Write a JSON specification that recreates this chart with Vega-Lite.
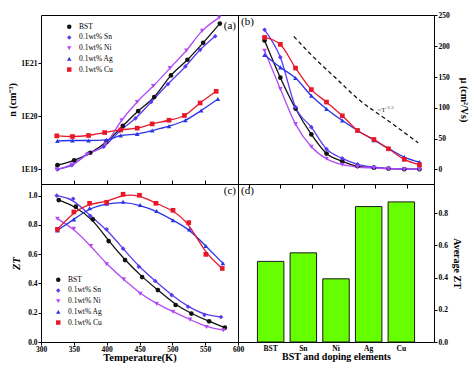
{
  "$schema": "https://vega.github.io/schema/vega-lite/v6.json",
  "padding": {"left": 7, "top": 10, "right": 4, "bottom": 4},
  "background": "white",
  "config": {
    "font": "Liberation Serif",
    "view": {"stroke": "black", "strokeWidth": 1},
    "axis": {"labelFont": "Liberation Serif", "labelFontWeight": "bold", "labelFontSize": 7.5, "labelColor": "black", "labelOverlap": false, "labelFlush": false, "titleFont": "Liberation Serif", "titleFontWeight": "bold", "titleColor": "black", "titleFontSize": 10, "domain": false, "tickColor": "black", "grid": false, "tickSize": 3, "labelPadding": 1},
    "legend": {"labelFont": "Liberation Serif", "labelFontSize": 7.5, "labelColor": "black", "symbolSize": 20, "rowPadding": 1.7, "labelOffset": 6, "padding": 0},
    "title": {"font": "Liberation Serif", "fontSize": 11, "fontWeight": "normal", "color": "black", "frame": "group"}
  },
  "datasets": {
    "n": [
      {"s": "BST", "T": 325, "v": 1.2e19}, {"s": "BST", "T": 350.5, "v": 1.48e19}, {"s": "BST", "T": 375, "v": 2.06e19}, {"s": "BST", "T": 399.5, "v": 3.3e19}, {"s": "BST", "T": 424.5, "v": 6.61e19}, {"s": "BST", "T": 448, "v": 1.26e20}, {"s": "BST", "T": 472.4, "v": 2.32e20}, {"s": "BST", "T": 497.9, "v": 5.92e20}, {"s": "BST", "T": 523, "v": 1.17e21}, {"s": "BST", "T": 546.9, "v": 2.44e21}, {"s": "BST", "T": 572.4, "v": 5.62e21},
      {"s": "0.1wt% Sn", "T": 325, "v": 1.0e19}, {"s": "0.1wt% Sn", "T": 346.9, "v": 1.2e19}, {"s": "0.1wt% Sn", "T": 370.9, "v": 1.97e19}, {"s": "0.1wt% Sn", "T": 395.4, "v": 2.67e19}, {"s": "0.1wt% Sn", "T": 419.9, "v": 5.32e19}, {"s": "0.1wt% Sn", "T": 443.9, "v": 9.2e19}, {"s": "0.1wt% Sn", "T": 467.8, "v": 1.87e20}, {"s": "0.1wt% Sn", "T": 493.4, "v": 4.07e20}, {"s": "0.1wt% Sn", "T": 519.9, "v": 8.75e20}, {"s": "0.1wt% Sn", "T": 542.3, "v": 1.8e21}, {"s": "0.1wt% Sn", "T": 565.3, "v": 3.25e21},
      {"s": "0.1wt% Ni", "T": 324, "v": 1.0e19}, {"s": "0.1wt% Ni", "T": 346.9, "v": 1.24e19}, {"s": "0.1wt% Ni", "T": 370.9, "v": 1.91e19}, {"s": "0.1wt% Ni", "T": 398.4, "v": 3.03e19}, {"s": "0.1wt% Ni", "T": 422.9, "v": 8.45e19}, {"s": "0.1wt% Ni", "T": 446.4, "v": 1.87e20}, {"s": "0.1wt% Ni", "T": 470.9, "v": 3.73e20}, {"s": "0.1wt% Ni", "T": 496.4, "v": 8.13e20}, {"s": "0.1wt% Ni", "T": 521.4, "v": 1.75e21}, {"s": "0.1wt% Ni", "T": 545.4, "v": 4.1e21}, {"s": "0.1wt% Ni", "T": 571.4, "v": 7.3e21},
      {"s": "0.1wt% Ag", "T": 325, "v": 3.45e19}, {"s": "0.1wt% Ag", "T": 347.9, "v": 3.51e19}, {"s": "0.1wt% Ag", "T": 372.4, "v": 3.51e19}, {"s": "0.1wt% Ag", "T": 399.5, "v": 3.61e19}, {"s": "0.1wt% Ag", "T": 421.4, "v": 4.36e19}, {"s": "0.1wt% Ag", "T": 446.4, "v": 4.68e19}, {"s": "0.1wt% Ag", "T": 469.3, "v": 5.41e19}, {"s": "0.1wt% Ag", "T": 494.9, "v": 6.52e19}, {"s": "0.1wt% Ag", "T": 519.9, "v": 8.45e19}, {"s": "0.1wt% Ag", "T": 543.9, "v": 1.29e20}, {"s": "0.1wt% Ag", "T": 569.4, "v": 2.13e20},
      {"s": "0.1wt% Cu", "T": 324, "v": 4.29e19}, {"s": "0.1wt% Cu", "T": 347.9, "v": 4.17e19}, {"s": "0.1wt% Cu", "T": 372.4, "v": 4.36e19}, {"s": "0.1wt% Cu", "T": 396.9, "v": 4.95e19}, {"s": "0.1wt% Cu", "T": 421.4, "v": 5.56e19}, {"s": "0.1wt% Cu", "T": 446.4, "v": 5.98e19}, {"s": "0.1wt% Cu", "T": 469.3, "v": 7.21e19}, {"s": "0.1wt% Cu", "T": 494.9, "v": 8.45e19}, {"s": "0.1wt% Cu", "T": 518.4, "v": 1.04e20}, {"s": "0.1wt% Cu", "T": 542.3, "v": 1.79e20}, {"s": "0.1wt% Cu", "T": 566.8, "v": 2.97e20}
    ],
    "mu": [
      {"s": "BST", "T": 325, "v": 209.5}, {"s": "BST", "T": 350, "v": 149}, {"s": "BST", "T": 374, "v": 98.8}, {"s": "BST", "T": 399, "v": 56.7}, {"s": "BST", "T": 423, "v": 25.6}, {"s": "BST", "T": 448, "v": 13}, {"s": "BST", "T": 472, "v": 5}, {"s": "BST", "T": 498, "v": 2.8}, {"s": "BST", "T": 521, "v": 1.3}, {"s": "BST", "T": 546, "v": 0.3}, {"s": "BST", "T": 570, "v": 0.2},
      {"s": "0.1wt% Sn", "T": 325, "v": 226.8}, {"s": "0.1wt% Sn", "T": 350, "v": 182}, {"s": "0.1wt% Sn", "T": 374, "v": 101}, {"s": "0.1wt% Sn", "T": 399, "v": 68.5}, {"s": "0.1wt% Sn", "T": 423, "v": 33}, {"s": "0.1wt% Sn", "T": 448, "v": 17.8}, {"s": "0.1wt% Sn", "T": 472, "v": 8.1}, {"s": "0.1wt% Sn", "T": 498, "v": 3.5}, {"s": "0.1wt% Sn", "T": 521, "v": 1.5}, {"s": "0.1wt% Sn", "T": 546, "v": 0.5}, {"s": "0.1wt% Sn", "T": 570, "v": 0.3},
      {"s": "0.1wt% Ni", "T": 325, "v": 192.8}, {"s": "0.1wt% Ni", "T": 350, "v": 130.5}, {"s": "0.1wt% Ni", "T": 374, "v": 73.5}, {"s": "0.1wt% Ni", "T": 399, "v": 36.8}, {"s": "0.1wt% Ni", "T": 423, "v": 17.2}, {"s": "0.1wt% Ni", "T": 448, "v": 7.5}, {"s": "0.1wt% Ni", "T": 472, "v": 3.8}, {"s": "0.1wt% Ni", "T": 498, "v": 2.2}, {"s": "0.1wt% Ni", "T": 521, "v": 1}, {"s": "0.1wt% Ni", "T": 546, "v": 0.3}, {"s": "0.1wt% Ni", "T": 570, "v": 0.2},
      {"s": "0.1wt% Ag", "T": 325, "v": 186}, {"s": "0.1wt% Ag", "T": 350, "v": 165.7}, {"s": "0.1wt% Ag", "T": 374, "v": 148.4}, {"s": "0.1wt% Ag", "T": 399, "v": 119.5}, {"s": "0.1wt% Ag", "T": 423, "v": 98.2}, {"s": "0.1wt% Ag", "T": 448, "v": 79.4}, {"s": "0.1wt% Ag", "T": 472, "v": 63.2}, {"s": "0.1wt% Ag", "T": 498, "v": 47.5}, {"s": "0.1wt% Ag", "T": 521, "v": 34}, {"s": "0.1wt% Ag", "T": 546, "v": 20}, {"s": "0.1wt% Ag", "T": 570, "v": 11.8},
      {"s": "0.1wt% Cu", "T": 325, "v": 214.4}, {"s": "0.1wt% Cu", "T": 350, "v": 203}, {"s": "0.1wt% Cu", "T": 374, "v": 164.6}, {"s": "0.1wt% Cu", "T": 399, "v": 129.6}, {"s": "0.1wt% Cu", "T": 423, "v": 109.3}, {"s": "0.1wt% Cu", "T": 448, "v": 87}, {"s": "0.1wt% Cu", "T": 472, "v": 63.2}, {"s": "0.1wt% Cu", "T": 498, "v": 48.6}, {"s": "0.1wt% Cu", "T": 521, "v": 33.4}, {"s": "0.1wt% Cu", "T": 546, "v": 16.2}, {"s": "0.1wt% Cu", "T": 570, "v": 7.5}
    ],
    "dash": [
      {"T": 371.3, "v": 216}, {"T": 402.9, "v": 181.9}, {"T": 437.2, "v": 148.7}, {"T": 474, "v": 113.4}, {"T": 521.5, "v": 78.3}, {"T": 568, "v": 43.1}
    ],
    "zt": [
      {"s": "BST", "T": 327, "v": 0.97}, {"s": "BST", "T": 353, "v": 0.925}, {"s": "BST", "T": 379, "v": 0.838}, {"s": "BST", "T": 403, "v": 0.69}, {"s": "BST", "T": 428, "v": 0.56}, {"s": "BST", "T": 454, "v": 0.444}, {"s": "BST", "T": 478, "v": 0.355}, {"s": "BST", "T": 505, "v": 0.253}, {"s": "BST", "T": 529, "v": 0.194}, {"s": "BST", "T": 556, "v": 0.141}, {"s": "BST", "T": 580, "v": 0.098},
      {"s": "0.1wt% Sn", "T": 324, "v": 1.0}, {"s": "0.1wt% Sn", "T": 349, "v": 0.979}, {"s": "0.1wt% Sn", "T": 375, "v": 0.862}, {"s": "0.1wt% Sn", "T": 400, "v": 0.77}, {"s": "0.1wt% Sn", "T": 425, "v": 0.638}, {"s": "0.1wt% Sn", "T": 449, "v": 0.515}, {"s": "0.1wt% Sn", "T": 474, "v": 0.417}, {"s": "0.1wt% Sn", "T": 499, "v": 0.321}, {"s": "0.1wt% Sn", "T": 524, "v": 0.241}, {"s": "0.1wt% Sn", "T": 549, "v": 0.185}, {"s": "0.1wt% Sn", "T": 574, "v": 0.171},
      {"s": "0.1wt% Ni", "T": 325, "v": 0.843}, {"s": "0.1wt% Ni", "T": 350, "v": 0.774}, {"s": "0.1wt% Ni", "T": 376, "v": 0.656}, {"s": "0.1wt% Ni", "T": 400, "v": 0.531}, {"s": "0.1wt% Ni", "T": 426, "v": 0.428}, {"s": "0.1wt% Ni", "T": 451, "v": 0.33}, {"s": "0.1wt% Ni", "T": 476, "v": 0.262}, {"s": "0.1wt% Ni", "T": 501, "v": 0.207}, {"s": "0.1wt% Ni", "T": 527, "v": 0.153}, {"s": "0.1wt% Ni", "T": 552, "v": 0.103}, {"s": "0.1wt% Ni", "T": 578, "v": 0.08},
      {"s": "0.1wt% Ag", "T": 325, "v": 0.763}, {"s": "0.1wt% Ag", "T": 350, "v": 0.838}, {"s": "0.1wt% Ag", "T": 374, "v": 0.915}, {"s": "0.1wt% Ag", "T": 400, "v": 0.945}, {"s": "0.1wt% Ag", "T": 425, "v": 0.959}, {"s": "0.1wt% Ag", "T": 451, "v": 0.936}, {"s": "0.1wt% Ag", "T": 476, "v": 0.895}, {"s": "0.1wt% Ag", "T": 501, "v": 0.832}, {"s": "0.1wt% Ag", "T": 526, "v": 0.77}, {"s": "0.1wt% Ag", "T": 551, "v": 0.656}, {"s": "0.1wt% Ag", "T": 577, "v": 0.538},
      {"s": "0.1wt% Cu", "T": 325, "v": 0.77}, {"s": "0.1wt% Cu", "T": 350, "v": 0.889}, {"s": "0.1wt% Cu", "T": 374, "v": 0.948}, {"s": "0.1wt% Cu", "T": 400, "v": 0.955}, {"s": "0.1wt% Cu", "T": 425, "v": 1.01}, {"s": "0.1wt% Cu", "T": 450, "v": 1.003}, {"s": "0.1wt% Cu", "T": 475, "v": 0.948}, {"s": "0.1wt% Cu", "T": 501, "v": 0.9}, {"s": "0.1wt% Cu", "T": 525, "v": 0.816}, {"s": "0.1wt% Cu", "T": 551, "v": 0.599}, {"s": "0.1wt% Cu", "T": 576, "v": 0.503}
    ],
    "avg": [
      {"k": "BST", "v": 0.5}, {"k": "Sn", "v": 0.553}, {"k": "Ni", "v": 0.392}, {"k": "Ag", "v": 0.84}, {"k": "Cu", "v": 0.869}
    ]
  },
  "columns": 2,
  "spacing": 0,
  "bounds": "flush",
  "resolve": {"scale": {"color": "independent", "shape": "independent", "stroke": "independent"}},
  "concat": [
    {
      "width": 197, "height": 169,
      "title": {"text": "(a)", "anchor": "end", "offset": -16, "dx": -2},
      "layer": [
        {
          "data": {"name": "n"},
          "mark": {"type": "line", "interpolate": "monotone", "strokeWidth": 1.3},
          "encoding": {
            "x": {"field": "T", "type": "quantitative", "scale": {"domain": [300, 600], "nice": false, "zero": false}, "axis": {"labels": false, "title": null, "tickSize": -4, "values": [350, 400, 450, 500, 550], "tickCount": 6}},
            "y": {"field": "v", "type": "quantitative", "scale": {"type": "log", "domain": [5.3e18, 8.17e21], "nice": false}, "axis": {"values": [1e19, 1e20, 1e21], "labelExpr": "'1E' + round(log(datum.value)/LN10)", "title": "n (cm⁻³)", "titlePadding": 3}},
            "stroke": {"field": "s", "type": "nominal", "scale": {"domain": ["0.1wt% Cu", "0.1wt% Ag", "0.1wt% Ni", "0.1wt% Sn", "BST"], "range": ["#e8182a", "#2b35e8", "#b24bf5", "#5b3bf0", "#111111"]}, "legend": null}
          }
        },
        {
          "data": {"name": "n"},
          "mark": {"type": "point", "filled": true, "size": 22, "opacity": 1},
          "encoding": {
            "x": {"field": "T", "type": "quantitative"},
            "y": {"field": "v", "type": "quantitative"},
            "color": {"field": "s", "type": "nominal", "title": null, "scale": {"domain": ["BST", "0.1wt% Sn", "0.1wt% Ni", "0.1wt% Ag", "0.1wt% Cu"], "range": ["#111111", "#5b3bf0", "#b24bf5", "#2b35e8", "#e8182a"]}, "legend": {"orient": "none", "legendX": 24.5, "legendY": 8}},
            "shape": {"field": "s", "type": "nominal", "title": null, "scale": {"domain": ["BST", "0.1wt% Sn", "0.1wt% Ni", "0.1wt% Ag", "0.1wt% Cu"], "range": ["circle", "diamond", "triangle-down", "triangle-up", "square"]}, "legend": {"orient": "none", "legendX": 24.5, "legendY": 8}}
          }
        }
      ]
    },
    {
      "width": 196, "height": 169,
      "title": {"text": "(b)", "anchor": "start", "offset": -16, "dx": 3},
      "layer": [
        {
          "data": {"name": "mu"},
          "mark": {"type": "line", "interpolate": "monotone", "strokeWidth": 1.3},
          "encoding": {
            "x": {"field": "T", "type": "quantitative", "scale": {"domain": [283, 593], "nice": false, "zero": false}, "axis": {"labels": false, "title": null, "tickSize": 4, "values": [300, 350, 400, 450, 500, 550], "tickCount": 7}},
            "y": {"field": "v", "type": "quantitative", "scale": {"domain": [-23.8, 250.8], "nice": false, "zero": false}, "axis": {"orient": "right", "values": [0, 50, 100, 150, 200, 250], "tickCount": 6, "title": "μ (cm²/Vs)", "titlePadding": 9}},
            "stroke": {"field": "s", "type": "nominal", "scale": {"domain": ["0.1wt% Cu", "0.1wt% Ag", "0.1wt% Ni", "0.1wt% Sn", "BST"], "range": ["#e8182a", "#2b35e8", "#b24bf5", "#5b3bf0", "#111111"]}, "legend": null}
          }
        },
        {
          "data": {"name": "mu"},
          "mark": {"type": "point", "filled": true, "size": 22, "opacity": 1},
          "encoding": {
            "x": {"field": "T", "type": "quantitative"},
            "y": {"field": "v", "type": "quantitative"},
            "color": {"field": "s", "type": "nominal", "scale": {"domain": ["BST", "0.1wt% Sn", "0.1wt% Ni", "0.1wt% Ag", "0.1wt% Cu"], "range": ["#111111", "#5b3bf0", "#b24bf5", "#2b35e8", "#e8182a"]}, "legend": null},
            "shape": {"field": "s", "type": "nominal", "scale": {"domain": ["BST", "0.1wt% Sn", "0.1wt% Ni", "0.1wt% Ag", "0.1wt% Cu"], "range": ["circle", "diamond", "triangle-down", "triangle-up", "square"]}, "legend": null}
          }
        },
        {
          "data": {"name": "dash"},
          "mark": {"type": "line", "interpolate": "monotone", "strokeDash": [4, 3], "strokeWidth": 1.3, "color": "#111111"},
          "encoding": {"x": {"field": "T", "type": "quantitative"}, "y": {"field": "v", "type": "quantitative"}}
        },
        {
          "data": {"values": [{}]},
          "mark": {"type": "text", "fontSize": 7, "font": "Liberation Serif", "color": "#333333", "align": "center"},
          "encoding": {"x": {"datum": 510}, "y": {"datum": 96}, "text": {"value": "~T"}}
        },
        {
          "data": {"values": [{}]},
          "mark": {"type": "text", "fontSize": 5, "font": "Liberation Serif", "color": "#333333", "align": "left"},
          "encoding": {"x": {"datum": 517}, "y": {"datum": 101}, "text": {"value": "-1.5"}}
        }
      ]
    },
    {
      "width": 197, "height": 158,
      "title": {"text": "(c)", "anchor": "end", "offset": -12, "dx": -2},
      "layer": [
        {
          "data": {"name": "zt"},
          "mark": {"type": "line", "interpolate": "basis", "strokeWidth": 1.3},
          "encoding": {
            "x": {"field": "T", "type": "quantitative", "scale": {"domain": [300, 600], "nice": false, "zero": false}, "axis": {"values": [300, 350, 400, 450, 500, 550, 600], "tickCount": 7, "labelPadding": 0, "title": "Temperature(K)", "titlePadding": 0, "titleFontSize": 10.5}},
            "y": {"field": "v", "type": "quantitative", "scale": {"domain": [0, 1.08], "nice": false}, "axis": {"values": [0, 0.2, 0.4, 0.6, 0.8, 1.0], "tickCount": 6, "format": ".1f", "title": "ZT", "titleFontStyle": "italic", "titleFontSize": 10.5, "titlePadding": 6}},
            "stroke": {"field": "s", "type": "nominal", "scale": {"domain": ["0.1wt% Cu", "0.1wt% Ag", "0.1wt% Ni", "0.1wt% Sn", "BST"], "range": ["#e8182a", "#2b35e8", "#b24bf5", "#5b3bf0", "#111111"]}, "legend": null}
          }
        },
        {
          "data": {"name": "zt"},
          "mark": {"type": "point", "filled": true, "size": 22, "opacity": 1},
          "encoding": {
            "x": {"field": "T", "type": "quantitative"},
            "y": {"field": "v", "type": "quantitative"},
            "color": {"field": "s", "type": "nominal", "title": null, "scale": {"domain": ["BST", "0.1wt% Sn", "0.1wt% Ni", "0.1wt% Ag", "0.1wt% Cu"], "range": ["#111111", "#5b3bf0", "#b24bf5", "#2b35e8", "#e8182a"]}, "legend": {"orient": "none", "legendX": 13.5, "legendY": 92}},
            "shape": {"field": "s", "type": "nominal", "title": null, "scale": {"domain": ["BST", "0.1wt% Sn", "0.1wt% Ni", "0.1wt% Ag", "0.1wt% Cu"], "range": ["circle", "diamond", "triangle-down", "triangle-up", "square"]}, "legend": {"orient": "none", "legendX": 13.5, "legendY": 92}}
          }
        }
      ]
    },
    {
      "width": 196, "height": 158,
      "title": {"text": "(d)", "anchor": "start", "offset": -12, "dx": 3},
      "layer": [
        {
          "data": {"name": "avg"},
          "mark": {"type": "bar", "fill": "#66ff00", "stroke": "#1a1a1a", "strokeWidth": 1},
          "encoding": {
            "x": {"field": "k", "type": "nominal", "sort": ["BST", "Sn", "Ni", "Ag", "Cu"], "scale": {"paddingInner": 0.19, "paddingOuter": 0.595}, "axis": {"labelAngle": 0, "title": "BST and doping elements", "titlePadding": 0, "tickSize": 0, "labelPadding": 2}},
            "y": {"field": "v", "type": "quantitative", "scale": {"domain": [0, 0.98], "nice": false}, "axis": {"orient": "right", "values": [0, 0.2, 0.4, 0.6, 0.8], "format": ".1f", "title": "Average ZT", "titlePadding": 4}}
          }
        }
      ]
    }
  ]
}
